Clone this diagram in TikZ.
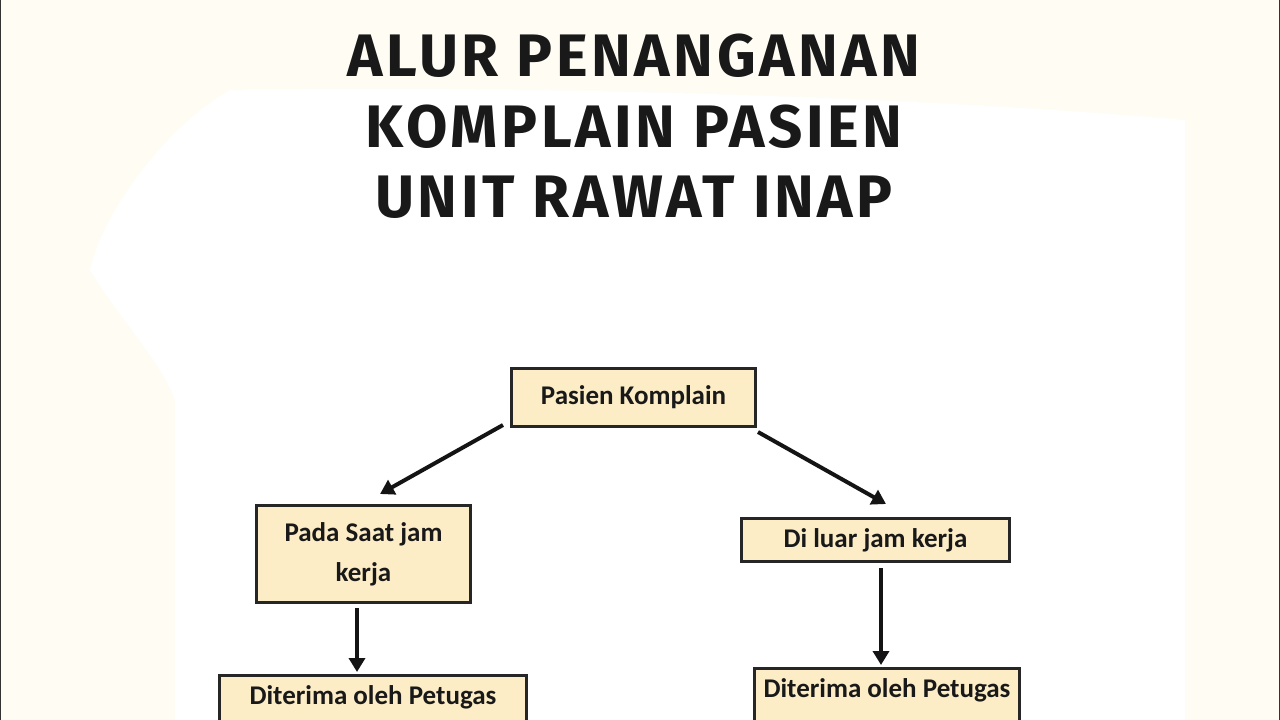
\documentclass[tikz,border=0pt]{standalone}
\usepackage{fontspec}
\setmainfont{Fira Sans}
\newfontfamily\boxfont{Carlito}
\usetikzlibrary{arrows.meta}
\definecolor{bgcream}{HTML}{FEFCF3}
\definecolor{boxfill}{HTML}{FCEDC6}
\definecolor{boxline}{HTML}{262626}
\tikzset{
  x=1pt, y=-1pt,
  titletext/.style={font=\fontsize{60}{64}\selectfont\bfseries\addfontfeature{LetterSpace=6}, text=black!90, anchor=center, inner sep=0pt},
  flowbox/.style={draw=boxline, line width=3pt, fill=boxfill, font=\boxfont\bfseries\fontsize{27}{40}\selectfont, text=black!90, align=center, inner sep=0pt},
  boxlabel/.style={font=\boxfont\bfseries\fontsize{27}{40}\selectfont, text=black!90, inner sep=0pt},
  flowarrow/.style={line width=4pt, draw=black!92, -{Triangle[length=14pt,width=16pt]}}
}
\begin{document}
\begin{tikzpicture}
\useasboundingbox (0,0) rectangle (1280,720);
\fill[bgcream] (0,0) rectangle (1280,720);
\fill[white] (230,90) .. controls (160,130) and (100,220) .. (90,270)
  .. controls (120,320) and (160,360) .. (175,400) -- (175,720) -- (1185,720) -- (1185,120)
  .. controls (900,95) and (500,85) .. (230,90) -- cycle;
\draw[black!80, line width=1pt] (0.5,0) -- (0.5,720);
\draw[black!80, line width=1pt] (1279.5,0) -- (1279.5,720);

\node[titletext] (t1) at (634,56) {ALUR PENANGANAN};
\node[titletext] (t2) at (634,127) {KOMPLAIN PASIEN};
\node[titletext] (t3) at (634,197) {UNIT RAWAT INAP};

\begin{scope}
\clip (0,0) rectangle (1280,720);
\node[flowbox, minimum width=244pt, minimum height=58pt] (pk) at (633.5,397.5) {Pasien Komplain};
\node[flowbox, minimum width=214pt, minimum height=97pt] (ps) at (363.5,554) {Pada Saat jam\\kerja};
\node[flowbox, minimum width=268pt, minimum height=43pt] (dl) at (875.5,540) {Di luar jam kerja};
\node[flowbox, minimum width=307pt, minimum height=100pt, anchor=north] (dt1) at (373,673.5) {};
\node[flowbox, minimum width=265pt, minimum height=100pt, anchor=north] (dt2) at (887,666.5) {};
\node[boxlabel] (dt1l) at (373,697) {Diterima oleh Petugas};
\node[boxlabel] (dt2l) at (887,690) {Diterima oleh Petugas};
\end{scope}

\coordinate (a1s) at (503,425);
\coordinate (a1e) at (380,494);
\coordinate (a2s) at (758,432);
\coordinate (a2e) at (886,504);
\draw[flowarrow] (a1s) -- (a1e);
\draw[flowarrow] (a2s) -- (a2e);
\draw[flowarrow] (ps.south -| 357,0) ++(0,4) -- (357,672);
\draw[flowarrow] (dl.south -| 881,0) ++(0,5) -- (881,665);
\end{tikzpicture}
\end{document}
